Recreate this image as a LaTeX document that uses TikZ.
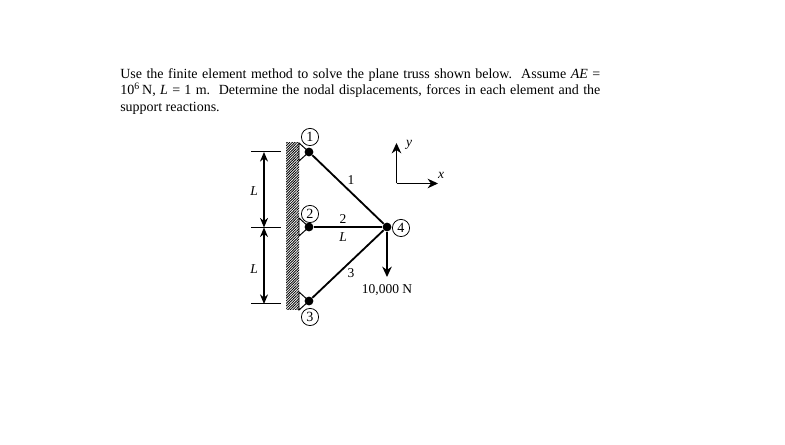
\documentclass[tikz,border=0pt]{standalone}
\usepackage{fontspec}
\setmainfont{Liberation Serif}
\usetikzlibrary{arrows.meta,patterns.meta}
\tikzset{
	joint/.style={circle, fill=black, inner sep=0pt, minimum size=0.22cm},
	tag/.style={circle, draw, line width=0.55pt, inner sep=0pt, minimum size=0.43cm, font=\fontsize{10}{10}\selectfont},
	label/.style={inner sep=0pt, font=\fontsize{9.6}{10}\selectfont},
	member/.style={line width=1.3pt},
	dim/.style={line width=0.85pt, {Stealth[length=0.24cm,width=0.2cm]}-{Stealth[length=0.24cm,width=0.2cm]}},
	pointer/.style={line width=0.85pt, -{Stealth[length=0.26cm,width=0.24cm]}},
	bracket/.style={line width=0.7pt}
}
\begin{document}
\begin{tikzpicture}

	\useasboundingbox (0, 0) rectangle (19.625, 11.125);

	\node [anchor=north west, inner sep=0pt, text width=12cm, align=justify, font=\fontsize{9.95}{11.7}\selectfont] (problem) at (3, 9.42) {Use the finite element method to solve the plane truss shown below.\ \ Assume \textit{AE} =\linebreak 10\textsuperscript{6}\,N, \textit{L} = 1 m.\ \ Determine the nodal displacements, forces in each element and the\linebreak support reactions.};

	\fill [pattern={Lines[angle=45, distance=1.3pt, line width=0.6pt]}] (7.15, 3.375) rectangle (7.475, 7.55);

	\node [joint] (n1) at (7.725, 7.325) {};
	\node [joint] (n2) at (7.725, 5.45) {};
	\node [joint] (n3) at (7.725, 3.6) {};
	\node [joint] (n4) at (9.675, 5.45) {};

	\coordinate (s1a) at (7.475, 7.55);
	\coordinate (s1b) at (7.475, 7.1);
	\coordinate (s2a) at (7.475, 5.675);
	\coordinate (s2b) at (7.475, 5.225);
	\coordinate (s3a) at (7.475, 3.825);
	\coordinate (s3b) at (7.475, 3.375);

	\draw [bracket] (s1a) -- (n1.center) -- (s1b) -- cycle;
	\draw [bracket] (s2a) -- (n2.center) -- (s2b) -- cycle;
	\draw [bracket] (s3a) -- (n3.center) -- (s3b) -- cycle;

	\draw [member] (n1) -- (n4);
	\draw [member] (n2) -- (n4);
	\draw [member] (n3) -- (n4);

	\node [tag] (t1) at (7.75, 7.7) {1};
	\node [tag] (t2) at (7.75, 5.775) {2};
	\node [tag] (t3) at (7.75, 3.2) {3};
	\node [tag] (t4) at (10.025, 5.425) {4};

	\node [label] (m1) at (8.775, 6.625) {1};
	\node [label] (m2) at (8.575, 5.65) {2};
	\node [label] (mL) at (8.575, 5.2) {\textit{L}};
	\node [label] (m3) at (8.775, 4.3) {3};

	\coordinate (d1l) at (6.275, 7.325);
	\coordinate (d1r) at (7.025, 7.325);
	\coordinate (d2l) at (6.275, 5.4375);
	\coordinate (d2r) at (7.025, 5.4375);
	\coordinate (d3l) at (6.275, 3.525);
	\coordinate (d3r) at (7.025, 3.525);
	\draw [bracket] (d1l) -- (d1r);
	\draw [bracket] (d2l) -- (d2r);
	\draw [bracket] (d3l) -- (d3r);

	\coordinate (a1) at (6.6, 7.325);
	\coordinate (a2) at (6.6, 5.4375);
	\coordinate (a3) at (6.6, 3.525);
	\draw [dim] (a1) -- (a2);
	\draw [dim] (a2) -- (a3);

	\node [label] (L1) at (6.35, 6.35) {\textit{L}};
	\node [label] (L2) at (6.35, 4.4) {\textit{L}};

	\coordinate (loadend) at (9.675, 4.2);
	\draw [pointer] (n4) -- (loadend);
	\node [label] (load) at (9.675, 3.88) {10,000 N};

	\coordinate (origin) at (9.9125, 6.5375);
	\coordinate (yend) at (9.9125, 7.55);
	\coordinate (xend) at (10.95, 6.5375);
	\draw [pointer] (origin) -- (yend);
	\draw [pointer] (origin) -- (xend);
	\node [label] (ylab) at (10.225, 7.5) {\textit{y}};
	\node [label] (xlab) at (11.025, 6.75) {\textit{x}};
\end{tikzpicture}
\end{document}
